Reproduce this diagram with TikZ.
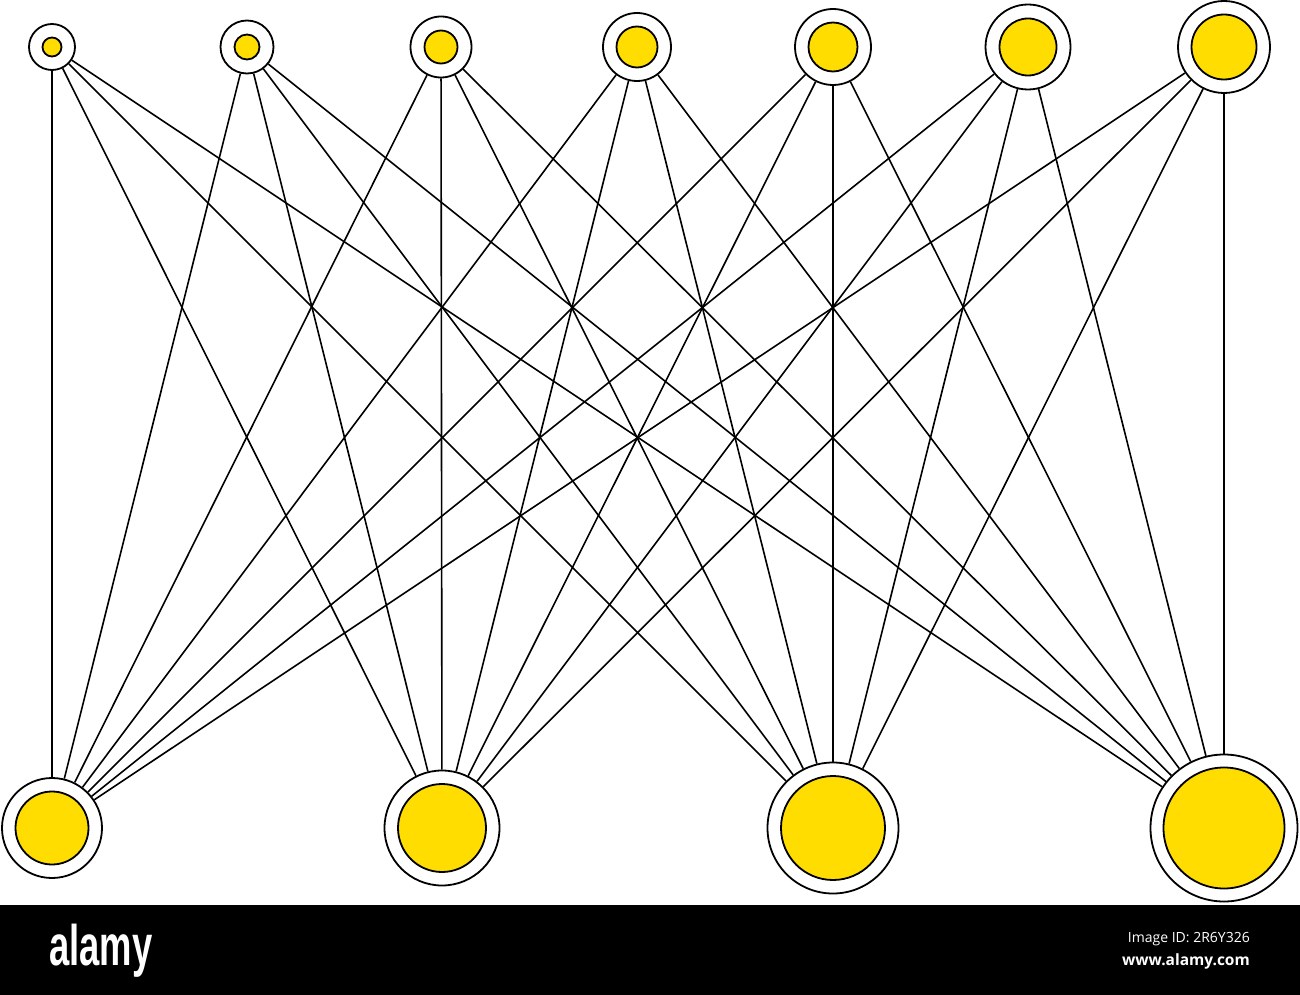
\documentclass[tikz,border=0pt]{standalone}
\usepackage{fontspec}
\setmainfont{Liberation Sans}
\newfontfamily\wmfont{Open Sans}
\definecolor{gold}{HTML}{FFDD00}
\begin{document}
\begin{tikzpicture}[x=1pt,y=-1pt,
  ring/.style={circle,draw=black,line width=1.8pt,fill=white,inner sep=0pt,minimum size=#1},
  core/.style={circle,draw=black,line width=1.8pt,fill=gold,inner sep=0pt,minimum size=#1},
  edge/.style={line width=1.6pt},
  wm/.style={text=white,inner sep=0pt}]
\useasboundingbox (0,0) rectangle (1300,995);
\fill[white] (0,0) rectangle (1300,905);
\fill[black] (0,905) rectangle (1300,995);
% top nodes
\node[ring=46] (t1) at (52,47) {};   \node[core=19] (t1c) at (52,47) {};
\node[ring=53] (t2) at (247,47) {};  \node[core=25] (t2c) at (247,47) {};
\node[ring=61] (t3) at (441,47) {};  \node[core=33] (t3c) at (441,47) {};
\node[ring=68] (t4) at (637,47) {};  \node[core=41] (t4c) at (637,47) {};
\node[ring=76] (t5) at (833,47) {};  \node[core=49] (t5c) at (833,47) {};
\node[ring=85] (t6) at (1028,47) {}; \node[core=57] (t6c) at (1028,47) {};
\node[ring=92] (t7) at (1224,47) {}; \node[core=65] (t7c) at (1224,47) {};
% bottom nodes
\node[ring=100] (b1) at (52,828) {};   \node[core=73] (b1c) at (52,828) {};
\node[ring=115] (b2) at (442,828) {};  \node[core=88] (b2c) at (442,828) {};
\node[ring=131] (b3) at (833,828) {};  \node[core=104] (b3c) at (833,828) {};
\node[ring=147] (b4) at (1224,828) {}; \node[core=121] (b4c) at (1224,828) {};
% edges
\foreach \t in {1,...,7}
  \foreach \b in {1,...,4}
    \draw[edge] (t\t) -- (b\b);
% watermark bar
\node[wm,anchor=base west] (logo) at (49,965)
  {\scalebox{0.7}[1.1]{\fontsize{52}{52}\selectfont\bfseries alamy}};
\node[wm,anchor=base east] (imgid) at (1250,942)
  {\wmfont\fontsize{14}{14}\selectfont Image ID: 2R6Y326};
\node[wm,anchor=base east] (site) at (1250,965)
  {\wmfont\bfseries\fontsize{15.5}{15.5}\selectfont www.alamy.com};
\end{tikzpicture}
\end{document}
